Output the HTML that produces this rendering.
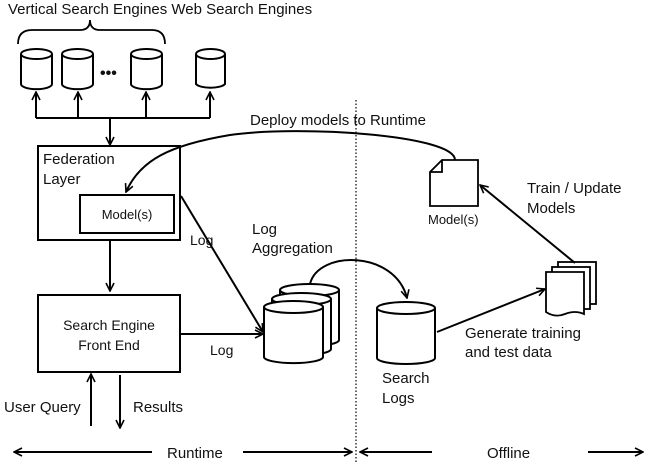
<!DOCTYPE html>
<html><head><meta charset="utf-8"><style>
html,body{margin:0;padding:0;background:#fff;}
svg{display:block;}
text{font-family:"Liberation Sans",sans-serif;fill:#111;}
</style></head><body>
<svg width="658" height="470" viewBox="0 0 658 470" xmlns="http://www.w3.org/2000/svg">
<defs>
<marker id="a" markerWidth="10" markerHeight="10" refX="9" refY="5" orient="auto" markerUnits="userSpaceOnUse">
<path d="M1,1 L9,5 L1,9" fill="none" stroke="#000" stroke-width="1.6"/>
</marker>
</defs>
<g stroke="#000" stroke-width="2" fill="none">
<text x="8" y="14" font-size="15" stroke="none">Vertical Search Engines Web Search Engines</text>
<path d="M18,44 Q18,30 32,30 L80,30 Q90,30 90,20 Q90,30 100,30 L152,30 Q165,30 165,44" stroke-width="1.8"/>
<g fill="#fff">
<path d="M21,54 v30 a15,5 0 0 0 31,0 v-30"/><ellipse cx="36.5" cy="54" rx="15.5" ry="5"/>
<path d="M62,54 v30 a15,5 0 0 0 31,0 v-30"/><ellipse cx="77.5" cy="54" rx="15.5" ry="5"/>
<path d="M131,54 v30 a15,5 0 0 0 31,0 v-30"/><ellipse cx="146.5" cy="54" rx="15.5" ry="5"/>
<path d="M196,54 v30 a15,5 0 0 0 29,0 v-30"/><ellipse cx="210.5" cy="54" rx="14.5" ry="5"/>
</g>
<text x="100" y="78" font-size="16" stroke="none" font-weight="bold">•••</text>
<path d="M36,118 H210"/>
<path d="M36,118 V92" marker-end="url(#a)"/>
<path d="M78,118 V92" marker-end="url(#a)"/>
<path d="M146,118 V92" marker-end="url(#a)"/>
<path d="M210,118 V92" marker-end="url(#a)"/>
<path d="M110,118 V145" marker-end="url(#a)"/>
<rect x="38" y="146" width="142" height="94"/>
<text x="43" y="164" font-size="15" stroke="none">Federation</text>
<text x="43" y="184" font-size="15" stroke="none">Layer</text>
<rect x="80" y="195" width="94" height="38"/>
<text x="127" y="219" font-size="13" stroke="none" text-anchor="middle">Model(s)</text>
<path d="M110,240 V291" marker-end="url(#a)"/>
<rect x="38" y="295" width="142" height="77"/>
<text x="109" y="330" font-size="14" stroke="none" text-anchor="middle">Search Engine</text>
<text x="109" y="350" font-size="14" stroke="none" text-anchor="middle">Front End</text>
<path d="M180,334 H263" marker-end="url(#a)"/>
<text x="210" y="355" font-size="14" stroke="none">Log</text>
<path d="M181,196 L263,332" marker-end="url(#a)"/>
<text x="190" y="245" font-size="14" stroke="none">Log</text>
<path d="M91,426 V374" marker-end="url(#a)"/>
<path d="M120,375 V428" marker-end="url(#a)"/>
<text x="4" y="412" font-size="15" stroke="none">User Query</text>
<text x="133" y="412" font-size="15" stroke="none">Results</text>
<g fill="#fff">
<path d="M280,290 v50 a29,6 0 0 0 59,0 v-50"/><ellipse cx="309.5" cy="290" rx="29.5" ry="6"/>
<path d="M272,299 v50 a29,6 0 0 0 59,0 v-50"/><ellipse cx="301.5" cy="299" rx="29.5" ry="6"/>
<path d="M264,307 v50 a29,6 0 0 0 59,0 v-50"/><ellipse cx="293.5" cy="307" rx="29.5" ry="6"/>
</g>
<text x="252" y="234" font-size="15" stroke="none">Log</text>
<text x="252" y="253" font-size="15" stroke="none">Aggregation</text>
<path d="M310,284 C318,250 395,250 407,298" marker-end="url(#a)"/>
<path d="M356,100 V462" stroke-width="1.2" stroke-dasharray="1.5,2"/>
<g fill="#fff">
<path d="M377,308 v50 a29,6 0 0 0 58,0 v-50"/><ellipse cx="406" cy="308" rx="29" ry="6"/>
</g>
<text x="382" y="383" font-size="15" stroke="none">Search</text>
<text x="382" y="403" font-size="15" stroke="none">Logs</text>
<path d="M437,332 L545,289" marker-end="url(#a)"/>
<text x="465" y="338" font-size="15" stroke="none">Generate training</text>
<text x="465" y="357" font-size="15" stroke="none">and test data</text>
<g fill="#fff" stroke-width="1.8">
<rect x="558" y="262" width="38" height="42"/>
<rect x="552" y="267" width="38" height="42"/>
<path d="M546,272 H584 V314 Q575,310 565,314 Q555,318 546,312 Z"/>
</g>
<path d="M575,263 L480,185" marker-end="url(#a)"/>
<text x="527" y="193" font-size="15" stroke="none">Train / Update</text>
<text x="527" y="213" font-size="15" stroke="none">Models</text>
<path d="M442,160 H478 V206 H430 V172 Z M430,172 L442,172 L442,160" fill="#fff" stroke-width="1.8"/>
<text x="428" y="224" font-size="13" stroke="none">Model(s)</text>
<path d="M455,160 C455,135 300,125 230,135 C170,145 140,160 126,192" marker-end="url(#a)"/>
<text x="250" y="125" font-size="15" stroke="none">Deploy models to Runtime</text>
<path d="M152,452 H14" marker-end="url(#a)"/>
<path d="M243,452 H352" marker-end="url(#a)"/>
<text x="167" y="458" font-size="15" stroke="none">Runtime</text>
<path d="M432,452 H360" marker-end="url(#a)"/>
<text x="487" y="458" font-size="15" stroke="none">Offline</text>
<path d="M588,452 H643" marker-end="url(#a)"/>
</g>
</svg>
</body></html>
